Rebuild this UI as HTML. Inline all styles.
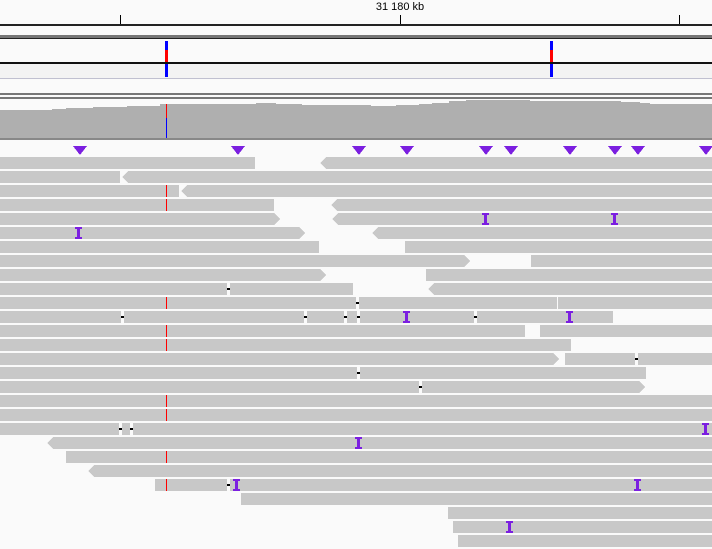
<!DOCTYPE html>
<html><head><meta charset="utf-8"><style>
body{margin:0;background:#fafafa;width:712px;height:549px;overflow:hidden;font-family:"Liberation Sans",sans-serif}
svg{display:block}
</style></head><body>
<svg id="c" width="712" height="549" shape-rendering="crispEdges">
<g>
<text x="400" y="10" font-size="11" text-anchor="middle" fill="#000">31 180 kb</text>
<rect x="120" y="15" width="1" height="10" fill="#000"/>
<rect x="400" y="15" width="1" height="10" fill="#000"/>
<rect x="679" y="15" width="1" height="10" fill="#000"/>
<rect x="0" y="24" width="712" height="2" fill="#222"/>
</g>
<rect x="0" y="35" width="712" height="3" fill="#777"/>
<rect x="0" y="38" width="712" height="1" fill="#222"/>
<g>
<rect x="0" y="63" width="712" height="15" fill="#f3f3f3"/>
<rect x="0" y="62" width="712" height="2" fill="#111"/>
<rect x="0" y="78" width="712" height="1" fill="#c0c0d0"/>
</g>
<rect x="0" y="93" width="712" height="2" fill="#777"/>
<rect x="0" y="97" width="712" height="2" fill="#777"/>
<g id="cov"></g>
<rect x="0" y="138" width="712" height="2" fill="#888"/>
<g id="reads"></g>
</svg>
<script>
const variantX=[166,551];
const covX=[0,52,66,93,127,160,186,256,276,302,371,396,419,432,449,466,503,530,621,640,650,712];
const covTop=[110,109,108,107,106,104,104,103,104,105,106,105,104,103,101,100,100,101,102,103,104];
const triX=[80,238,359,407,486,511,570,615,638,706];
const reads=[
[[0,255,0],[320,712,-1]],
[[0,120,0],[122,712,-1]],
[[0,179,0],[181,712,-1]],
[[0,274,0],[331,712,-1]],
[[0,280,1],[332,712,-1]],
[[0,305,1],[372,712,-1]],
[[0,319,0],[405,712,0]],
[[0,470,1],[531,712,0]],
[[0,326,1],[426,712,0]],
[[0,353,0],[428,712,-1]],
[[0,356,0],[358,557,0],[558,712,0]],
[[0,613,0]],
[[0,525,0],[540,712,0]],
[[0,571,0]],
[[0,559,1],[565,712,0]],
[[0,646,0]],
[[0,645,1]],
[[0,712,0]],
[[0,712,0]],
[[0,712,0]],
[[47,712,-1]],
[[66,712,0]],
[[88,712,-1]],
[[155,712,0]],
[[241,712,0]],
[[448,712,0]],
[[453,712,0]],
[[458,712,0]]];
const delRow=[9,10,11,11,11,11,11,14,15,16,19,19,23];
const delX=[228,357,122,305,345,358,475,636,358,420,120,131,228];
const insRow=[4,4,5,11,11,19,20,23,23,26];
const insX=[485,614,78,406,569,705,358,236,637,509];
const misRows=[2,3,10,12,13,17,18,21,23];
const misX=166;
const NS='http://www.w3.org/2000/svg';
const svg=document.getElementById('c');
function mk(t,a,p){const e=document.createElementNS(NS,t);for(const k in a)e.setAttribute(k,a[k]);p.appendChild(e);return e;}
const rowY=i=>157+14*i;
variantX.forEach(x=>{
 let e=mk('rect',{x:x-1,y:41,width:3,height:9,fill:'#0000ff'},svg);
 
 e=mk('rect',{x:x-1,y:50,width:3,height:12,fill:'#ff0000'},svg);
 
 e=mk('rect',{x:x-1,y:64,width:3,height:13,fill:'#0000ff'},svg);
 
});
const cov=document.getElementById('cov');
let d='M0 138';
for(let i=0;i<covTop.length;i++){d+=` L${covX[i]} ${covTop[i]} L${covX[i+1]} ${covTop[i]}`;}
d+=' L712 138 Z';
let p=mk('path',{d:d,fill:'#afafaf'},cov);

p=mk('rect',{x:166,y:104,width:1,height:14,fill:'#ff0000'},cov);

p=mk('rect',{x:166,y:118,width:1,height:20,fill:'#0000ff'},cov);

triX.forEach(x=>{
 const t=mk('path',{d:`M${x-7} 146 L${x+7} 146 L${x} 155 Z`,fill:'#7b1fe0'},svg);
 
});
const rg=document.getElementById('reads');
reads.forEach((row,i)=>{
 const y=rowY(i);
 row.forEach(s=>{
  const [a,b,dir]=s;let dd;
  if(dir===1)dd=`M${a} ${y} L${b-6} ${y} L${b} ${y+6} L${b-6} ${y+12} L${a} ${y+12} Z`;
  else if(dir===-1)dd=`M${a+6} ${y} L${b} ${y} L${b} ${y+12} L${a+6} ${y+12} L${a} ${y+6} Z`;
  else dd=`M${a} ${y} L${b} ${y} L${b} ${y+12} L${a} ${y+12} Z`;
  const r=mk('path',{d:dd,fill:'#c8c8c8'},rg);
  
 });
});
misRows.forEach(i=>{
 const r=mk('rect',{x:misX,y:rowY(i),width:1,height:12,fill:'#ff0000'},rg);
 
});
delRow.forEach((ri,k)=>{
 const y=rowY(ri),x=delX[k];
 let r=mk('rect',{x:x-1,y:y,width:3,height:12,fill:'#fafafa'},rg);
 
 r=mk('rect',{x:x-1,y:y+5,width:3,height:2,fill:'#000'},rg);
 
});
insRow.forEach((ri,k)=>{
 const y=rowY(ri),x=insX[k];
 const g=mk('path',{d:`M${x-3} ${y} h7 v2 h-2 v8 h2 v2 h-7 v-2 h2 v-8 h-2 Z`,fill:'#7b1fe0'},rg);
 
});
</script>
</body></html>
